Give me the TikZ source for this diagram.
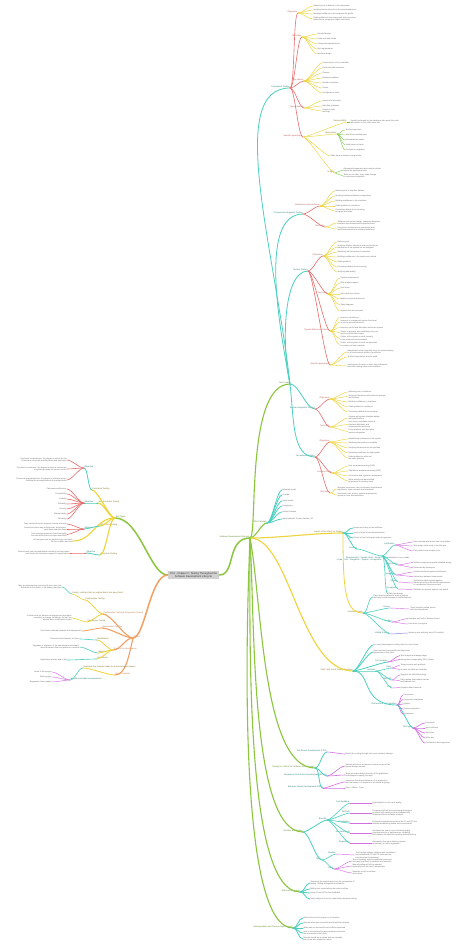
\documentclass[tikz,border=0pt]{standalone}
\usepackage{fontspec}
\setmainfont{Liberation Sans}
\usetikzlibrary{calc}

\definecolor{mmgreen}{HTML}{8CC63F}
\definecolor{mmcyan}{HTML}{4ACFC0}
\definecolor{mmred}{HTML}{E86C6C}
\definecolor{mmyellow}{HTML}{EED43A}
\definecolor{mmpurple}{HTML}{D26FE2}
\definecolor{mmorange}{HTML}{F2A063}
\definecolor{mmblue}{HTML}{8A7BE6}
\definecolor{mmleaf}{HTML}{7DC84A}

\tikzset{
  mm/.style={to path={.. controls ($(\tikztostart)+(#1,0)$) and ($(\tikztotarget)-(#1,0)$) .. (\tikztotarget)}},
  mm/.default=5,
  b1/.style={line width=1.5pt,line cap=round},
  b2/.style={line width=1.1pt,line cap=round},
  b3/.style={line width=0.8pt,line cap=round},
  b4/.style={line width=0.6pt,line cap=round},
  b5/.style={line width=0.45pt,line cap=round},
  b6/.style={line width=0.4pt,line cap=round},
  rootbox/.style={fill=black!18,rounded corners=0.6pt,align=center,inner xsep=2pt,inner ysep=1pt,
    text=black!80,font=\fontsize{2.6}{3.1}\selectfont},
  topic/.style={inner sep=0.3pt,anchor=south east,font=\fontsize{2.1}{2.5}\selectfont},
  ltopic/.style={topic,anchor=south west},
  leaf/.style={inner sep=0.3pt,anchor=west,align=left,text=black!60,font=\fontsize{1.95}{2.35}\selectfont},
  lleaf/.style={leaf,anchor=east,align=right},
  lblg/.style={text=mmgreen!65!black},
  lblc/.style={text=mmcyan!60!black},
  lblr/.style={text=mmred!80!black},
  lbly/.style={text=mmyellow!55!black},
  lblp/.style={text=mmpurple!70!black},
  lblo/.style={text=mmorange!75!black},
}

\begin{document}
\begin{tikzpicture}[x=1pt,y=-1pt]
\fill[white] (0,0) rectangle (474,947);
\useasboundingbox (0,0) rectangle (474,947);

\node[rootbox] (root) at (193.5,575) {CO1 - Chapter 2: Testing Throughout the\\Software Development Lifecycle};

% ================= right: software development lifecycle
\node[topic,lblg] (sdl) at (250,538) {Software Development Lifecycle};
\draw[b1,mmgreen] (root.east) .. controls (236,575) and (226,538) .. (sdl.south east);

% ---- test levels
\node[topic,lblg] (lev) at (290,384) {Test Levels};
\draw[b2,mmgreen] (sdl.south east) .. controls (258,538) and (245,384) .. (lev.south east);

% component testing
\node[topic,lblc] (cmp) at (290,88) {Component Testing};
\draw[b3,mmcyan] (lev.south east) .. controls (275,250) and (225,88) .. (cmp.south east);
\node[topic,lblr] (cmp-obj) at (298,13) {Objectives};
\node[topic,lblr] (cmp-bas) at (302,37) {Test basis};
\node[topic,lblr] (cmp-tob) at (304,81) {Test objects};
\node[topic,lblr] (cmp-def) at (304,108) {Typical defects};
\node[topic,lblr] (cmp-app) at (303,137) {Specific approaches};
\foreach \n in {obj,bas,tob,def,app}
  \draw[b4,mmred] (cmp.south east) to[mm] (cmp-\n.south east);
\foreach \y/\txt [count=\i] in {6/{Reducing risk of defects in the component},
    10/{Verifying functional and non-functional behaviours},
    14/{Building confidence in the component's quality},
    19/{Finding defects in the component and preventing\\defects from escaping to higher test levels}}{
  \node[leaf] (cmp-obj-\i) at (313,\y) {\txt};
  \draw[b5,mmyellow] (cmp-obj.south east) to[mm] (cmp-obj-\i.west);
}
\foreach \y/\txt [count=\i] in {34/{Detailed design},39/{Code and data model},
    44/{Component specifications},49/{Unit requirements},54/{Interface design}}{
  \node[leaf] (cmp-bas-\i) at (317,\y) {\txt};
  \draw[b5,mmyellow] (cmp-bas.south east) to[mm] (cmp-bas-\i.west);
}
\foreach \y/\txt [count=\i] in {63/{Components, units or modules},68/{Code and data structures},
    73/{Classes},78/{Database modules},83/{Stored procedures},88/{Scripts},93/{Configuration items}}{
  \node[leaf] (cmp-tob-\i) at (322,\y) {\txt};
  \draw[b5,mmyellow] (cmp-tob.south east) to[mm] (cmp-tob-\i.west);
}
\foreach \y/\txt [count=\i] in {101/{Incorrect functionality},106/{Data flow problems},
    111/{Incorrect code\\and logic}}{
  \node[leaf] (cmp-def-\i) at (322,\y) {\txt};
  \draw[b5,mmyellow] (cmp-def.south east) to[mm] (cmp-def-\i.west);
}
\node[topic,lbly] (cmp-rsp) at (347,122) {Responsibility};
\node[topic,lbly] (cmp-tdd) at (337,134) {Approaches};
\node[leaf] (cmp-iso) at (330,156) {Often done in isolation using mocks};
\node[topic,lbly] (cmp-agl) at (335,173) {In Agile};
\foreach \n/\a in {rsp/south east,tdd/south east,iso/west,agl/south east}
  \draw[b5,mmyellow] (cmp-app.south east) to[mm] (cmp-\n.\a);
\node[leaf] (cmp-rsp-1) at (350,122) {Usually performed by the developer who wrote the code\\with access to the code under test};
\draw[b6,mmleaf] (cmp-rsp.south east) to[mm=2] (cmp-rsp-1.west);
\foreach \y/\txt [count=\i] in {130/{Test-first approach},135/{Test driven development},
    140/{Automated test cases},145/{Small pieces of code},150/{Continuous integration}}{
  \node[leaf] (cmp-tdd-\i) at (345,\y) {\txt};
  \draw[b6,mmleaf] (cmp-tdd.south east) to[mm=3] (cmp-tdd-\i.west);
}
\foreach \y/\txt [count=\i] in {170/{Automated component tests may be written\\before the application code},
    176/{Tests are run after every code change\\in continuous integration}}{
  \node[leaf] (cmp-agl-\i) at (343,\y) {\txt};
  \draw[b6,mmleaf] (cmp-agl.south east) to[mm=3] (cmp-agl-\i.west);
}

% component integration testing
\node[topic,lblc] (cit) at (303,214) {Component Integration Testing};
\draw[b3,mmcyan] (lev.south east) .. controls (280,330) and (258,214) .. (cit.south east);
\node[topic,lblr] (cit-obj) at (320,206) {Interactions and interfaces};
\node[topic,lblr] (cit-bas) at (325,227) {Test basis};
\foreach \n in {obj,bas}
  \draw[b4,mmred] (cit.south east) to[mm] (cit-\n.south east);
\foreach \y/\txt [count=\i] in {191/{Reducing risk of interface defects},
    196/{Verifying interfaces between components},
    201/{Building confidence in the interfaces},
    206/{Finding defects in interfaces},
    211/{Preventing defects from escaping\\to higher test levels}}{
  \node[leaf] (cit-obj-\i) at (335,\y) {\txt};
  \draw[b5,mmyellow] (cit-obj.south east) to[mm] (cit-obj-\i.west);
}
\foreach \y/\txt [count=\i] in {223/{Software and system design, sequence diagrams\\interface and communication specifications},
    229/{Use cases, architecture at component level\\workflows and external interface definitions}}{
  \node[leaf] (cit-bas-\i) at (337,\y) {\txt};
  \draw[b5,mmyellow] (cit-bas.south east) to[mm] (cit-bas-\i.west);
}

% system testing
\node[topic,lblc] (sys) at (308,271) {System Testing};
\draw[b3,mmcyan] (lev.south east) .. controls (282,350) and (282,271) .. (sys.south east);
\node[topic,lblr] (sys-obj) at (323,256) {Objectives};
\node[topic,lblr] (sys-bas) at (328,294) {Test basis};
\node[topic,lblr] (sys-def) at (330,331) {Typical defects and failures};
\node[topic,lblr] (sys-app) at (330,365) {Specific approaches};
\foreach \n in {obj,bas,def,app}
  \draw[b4,mmred] (sys.south east) to[mm] (sys-\n.south east);
\foreach \y/\txt [count=\i] in {242/{Reducing risk},
    247/{Verifying whether functional and non-functional\\behaviours of the system are as designed},
    252/{Validating that the system is complete},
    257/{Building confidence in the system as a whole},
    262/{Finding defects},267/{Preventing defects from escaping},272/{Verifying data quality}}{
  \node[leaf] (sys-obj-\i) at (337,\y) {\txt};
  \draw[b5,mmyellow] (sys-obj.south east) to[mm] (sys-obj-\i.west);
}
\foreach \y/\txt [count=\i] in {278/{System requirements},283/{Risk analysis reports},288/{Use cases},
    294/{Epics and user stories},299/{Models of system behaviour},305/{State diagrams},311/{System and user manuals}}{
  \node[leaf] (sys-bas-\i) at (340,\y) {\txt};
  \draw[b5,mmyellow] (sys-bas.south east) to[mm] (sys-bas-\i.west);
}
\foreach \y/\txt [count=\i] in {317.5/{Incorrect calculations},
    322/{Incorrect or unexpected system functional\\or non-functional behaviour},
    327.5/{Incorrect control and data flows within the system},
    332.5/{Failure to properly and completely carry out\\end-to-end functional tasks},
    338.5/{Failure of the system to work properly\\in the production environments},
    344.5/{Failure of the system to work as described\\in system and user manuals}}{
  \node[leaf] (sys-def-\i) at (340,\y) {\txt};
  \draw[b5,mmyellow] (sys-def.south east) to[mm] (sys-def-\i.west);
}
\foreach \y/\txt [count=\i] in {352/{Independent testers typically carry out system testing\\in an environment similar to production},
    357/{Test-first approaches may be used},
    366/{Involvement of testers in user story refinement\\and static testing helps reduce defects}}{
  \node[leaf] (sys-app-\i) at (347,\y) {\txt};
  \draw[b5,mmyellow] (sys-app.south east) to[mm] (sys-app-\i.west);
}

% system integration testing
\node[topic,lblc] (sit) at (315,409) {System Integration Testing};
\draw[b3,mmcyan] (lev.south east) to[mm=9] (sit.south east);
\node[topic,lblr] (sit-obj) at (330,399) {Objectives};
\node[topic,lblr] (sit-bas) at (330,427) {Test basis};
\foreach \n in {obj,bas}
  \draw[b4,mmred] (sit.south east) to[mm] (sit-\n.south east);
\foreach \y/\txt [count=\i] in {392/{Reducing risk in interfaces},
    396.5/{Verifying interactions with external systems\\and services},
    402/{Building confidence in interfaces},407/{Finding defects in interfaces},
    412/{Preventing defects from escaping}}{
  \node[leaf] (sit-obj-\i) at (348,\y) {\txt};
  \draw[b5,mmyellow] (sit-obj.south east) to[mm] (sit-obj-\i.west);
}
\foreach \y/\txt [count=\i] in {418/{System and system interface design\\and specifications},
    424.5/{Use cases, workflows, external\\interface definitions and\\communication protocols},
    431.5/{Cross-platform and third-party\\services integration}}{
  \node[leaf] (sit-bas-\i) at (348,\y) {\txt};
  \draw[b5,mmyellow] (sit-bas.south east) to[mm] (sit-bas-\i.west);
}

% acceptance testing
\node[topic,lblc] (acc) at (315,457) {Acceptance Testing};
\draw[b3,mmcyan] (lev.south east) .. controls (294,420) and (292,457) .. (acc.south east);
\node[topic,lblr] (acc-obj) at (330,442) {Objectives};
\node[topic,lblr] (acc-frm) at (332,473) {Common forms};
\node[topic,lblr] (acc-bas) at (330,493) {Test basis};
\foreach \n in {obj,frm,bas}
  \draw[b4,mmred] (acc.south east) to[mm] (acc-\n.south east);
\foreach \y/\txt [count=\i] in {439/{Establishing confidence in the system},
    443/{Validating the system is complete},448/{Verifying behaviours are as specified},
    453/{Assessing readiness for deployment},458/{Finding defects is often not\\the main objective}}{
  \node[leaf] (acc-obj-\i) at (348,\y) {\txt};
  \draw[b5,mmyellow] (acc-obj.south east) to[mm] (acc-obj-\i.west);
}
\foreach \y/\txt [count=\i] in {466/{User acceptance testing (UAT)},
    471/{Operational acceptance testing (OAT)},476/{Contractual and regulatory acceptance},
    481/{Alpha testing and beta testing\\by potential or existing users}}{
  \node[leaf] (acc-frm-\i) at (348,\y) {\txt};
  \draw[b5,mmyellow] (acc-frm.south east) to[mm] (acc-frm-\i.west);
}
\foreach \y/\txt [count=\i] in {489/{Business processes, user or business requirements\\regulations, legal contracts and standards},
    495/{Use cases, user stories, system requirements\\system or user documentation}}{
  \node[leaf] (acc-bas-\i) at (337,\y) {\txt};
  \draw[b5,mmyellow] (acc-bas.south east) to[mm] (acc-bas-\i.west);
}

% ---- sdlc models
\node[topic,lblg] (slc) at (267,523) {SDLC Models};
\draw[b2,mmgreen] (sdl.south east) to[mm=6] (slc.south east);
\foreach \y/\txt [count=\i] in {490/{Waterfall model},495/{V-model},501/{Spiral model},
    506/{Prototyping},512/{Unified Process},519/{Agile methods: Scrum, Kanban, XP}}{
  \node[leaf] (slc-\i) at (282,\y) {\txt};
  \draw[b3,mmcyan] (slc.south east) to[mm] (slc-\i.west);
}

% ---- impact of the sdlc on testing
\node[topic,lbly] (imp) at (343,533) {Impact of the SDLC on Testing};
\draw[b2,mmyellow] (sdl.south east) to[mm=30] (imp.south east);
\foreach \y/\txt [count=\i] in {528/{Scope and timing of test activities},
    533/{Level of detail of test documentation},538/{Choice of test techniques and test approach}}{
  \node[leaf] (imp-\i) at (353,\y) {\txt};
  \draw[b3,mmcyan] (imp.south east) to[mm] (imp-\i.west);
}
\node[topic,lblc] (imp-vm) at (357,549) {V-model};
\draw[b3,mmcyan] (imp.south east) to[mm] (imp-vm.south east);
\node[topic,lblc,anchor=north east,align=right] (vm-lvl) at (382,556) {Requirements - System Spec - Design\\- Code - Unit - Integration - System - Acceptance};
\draw[b4,mmcyan] (imp-vm.south east) to[mm=6] (vm-lvl.north east);
\node[topic,lblc] (vm-ver) at (395,545) {Verification};
\node[leaf] (vm-val) at (388,557.5) {Validation of user needs};
\node[topic,lblc] (vm-uni) at (398,565) {Unit testing};
\node[topic,lblc] (vm-int) at (396,575) {Integration};
\node[topic,lblc] (vm-sys) at (398,582) {System};
\node[topic,lblc] (vm-acc) at (398,589) {Acceptance};
\node[leaf] (vm-erl) at (388,594) {Early test design};
\foreach \n/\a in {ver/south east,val/west,uni/south east,int/south east,sys/south east,acc/south east,erl/west}
  \draw[b4,mmcyan] (vm-lvl.north east) to[mm=4] (vm-\n.\a);
\foreach \y/\txt [count=\i] in {542/{Each development phase has a test phase},
    546/{Test design starts early in the lifecycle},551/{Early defects are cheaper to fix}}{
  \node[leaf] (vm-ver-\i) at (413,\y) {\txt};
  \draw[b5,mmpurple] (vm-ver.south east) to[mm=4] (vm-ver-\i.west);
}
\foreach \y/\txt [count=\i] in {562.5/{Verifies components against detailed design},567.5/{Performed by developers}}{
  \node[leaf] (vm-uni-\i) at (413,\y) {\txt};
  \draw[b5,mmpurple] (vm-uni.south east) to[mm=4] (vm-uni-\i.west);
}
\foreach \y/\txt [count=\i] in {572/{Verifies interfaces against architecture},576.5/{Interactions between components}}{
  \node[leaf] (vm-int-\i) at (413,\y) {\txt};
  \draw[b5,mmpurple] (vm-int.south east) to[mm=4] (vm-int-\i.west);
}
\node[leaf] (vm-sys-1) at (413,583) {Verifies the whole system against\\functional and non-functional requirements\\in a production-like environment};
\draw[b5,mmpurple] (vm-sys.south east) to[mm=4] (vm-sys-1.west);
\node[leaf] (vm-acc-1) at (413,589.5) {Validates the system against user needs};
\draw[b5,mmpurple] (vm-acc.south east) to[mm=4] (vm-acc-1.west);

% iterative models
\node[topic,lbly] (agl) at (363,613) {Iterative Models};
\draw[b3,mmyellow] (imp.south east) .. controls (343,590) and (345,613) .. (agl.south east);
\node[leaf] (agl-1) at (373,597) {Each iteration delivers a working feature\\and may include changes to earlier features};
\draw[b4,mmcyan] (agl.south east) to[mm] (agl-1.west);
\node[topic,lblc] (agl-scr) at (390,608) {Scrum};
\node[topic,lblc] (agl-kan) at (392,622) {Kanban};
\node[topic,lblc] (agl-rup) at (390,634) {Unified Process};
\foreach \n in {scr,kan,rup}
  \draw[b4,mmcyan] (agl.south east) to[mm] (agl-\n.south east);
\node[leaf] (agl-scr-1) at (410,609) {Short iterations called sprints\\with fixed timeboxes};
\draw[b5,mmpurple] (agl-scr.south east) to[mm=4] (agl-scr-1.west);
\foreach \y/\txt [count=\i] in {618.5/{Visualize work with a Kanban board},624/{Limit work in progress}}{
  \node[leaf] (agl-kan-\i) at (408,\y) {\txt};
  \draw[b5,mmpurple] (agl-kan.south east) to[mm=4] (agl-kan-\i.west);
}
\node[leaf] (agl-rup-1) at (408,633) {Iterations are relatively long (2-3 months)};
\draw[b5,mmblue] (agl-rup.south east) to[mm=4] (agl-rup-1.west);

% ---- good testing practices
\node[topic,lbly] (gtp) at (353,671) {SDLC and Good Testing Practices};
\draw[b2,mmyellow] (sdl.south east) .. controls (290,538) and (300,671) .. (gtp.south east);
\foreach \y/\txt [count=\i] in {645/{For every development activity there is a test activity},
    652/{Each test level has specific test objectives\\appropriate to that level}}{
  \node[leaf] (gtp-\i) at (373,\y) {\txt};
  \draw[b3,mmcyan] (gtp.south east) to[mm] (gtp-\i.west);
}
\node[topic,lblc] (gtp-anl) at (388,662) {Test analysis};
\node[topic,lblc] (gtp-rev) at (376,671) {Reviews};
\foreach \n in {anl,rev}
  \draw[b3,mmcyan] (gtp.south east) to[mm] (gtp-\n.south east);
\foreach \y/\txt [count=\i] in {655.5/{Test analysis and design begin},659.5/{during the corresponding SDLC phase}}{
  \node[leaf] (gtp-anl-\i) at (400,\y) {\txt};
  \draw[b4,mmpurple] (gtp-anl.south east) to[mm=3] (gtp-anl-\i.west);
}
\node[topic,lblc] (rev-erl) at (392,668) {Early};
\node[topic,lblc] (rev-shl) at (392,680) {Shift-left};
\node[topic,lblc] (rev-cst) at (392,688) {Cost};
\foreach \n in {erl,shl,cst}
  \draw[b4,mmcyan] (gtp-rev.south east) to[mm=4] (rev-\n.south east);
\foreach \y/\txt [count=\i] in {665/{Testers review work products},669.5/{as soon as drafts are available}}{
  \node[leaf] (rev-erl-\i) at (400,\y) {\txt};
  \draw[b5,mmpurple] (rev-erl.south east) to[mm=3] (rev-erl-\i.west);
}
\foreach \y/\txt [count=\i] in {675/{Supports the shift-left strategy},680.5/{Early testing finds defects sooner\\and reduces cost}}{
  \node[leaf] (rev-shl-\i) at (400,\y) {\txt};
  \draw[b5,mmpurple] (rev-shl.south east) to[mm=3] (rev-shl-\i.west);
}
\node[leaf] (rev-cst-1) at (400,687.5) {Cheaper defect removal};
\draw[b5,mmpurple] (rev-cst.south east) to[mm=3] (rev-cst-1.west);
\node[topic,lblc] (gtp-lvl) at (397,705) {Test levels in each iteration};
\draw[b3,mmcyan] (gtp.south east) .. controls (372,671) and (360,705) .. (gtp-lvl.south east);
\foreach \y/\txt [count=\i] in {695/{Component},699.5/{Component integration},704/{System},
    709/{System integration},714/{Acceptance}}{
  \node[leaf] (gtp-lvl-\i) at (403,\y) {\txt};
  \draw[b4,mmpurple] (gtp-lvl.south east) to[mm=3] (gtp-lvl-\i.west);
}
\node[topic,lblc] (gtp-typ) at (413,728) {Test types};
\draw[b3,mmcyan] (gtp-lvl.south east) to[mm=4] (gtp-typ.south east);
\foreach \y/\txt [count=\i] in {723/{Functional},728/{Non-functional},733/{Black-box},
    738/{White-box},743/{Confirmation and regression}}{
  \node[leaf] (gtp-typ-\i) at (425,\y) {\txt};
  \draw[b4,mmpurple] (gtp-typ.south east) to[mm=4] (gtp-typ-\i.west);
}

% ---- testing as a driver
\node[topic,lblg] (drv) at (315,768) {Testing as a Driver for Software Development};
\draw[b2,mmgreen] (sdl.south east) .. controls (262,600) and (262,768) .. (drv.south east);
\node[topic,lblc] (drv-tdd) at (327,752) {Test-Driven Development (TDD)};
\node[topic,lblc] (drv-atd) at (327,776) {Acceptance Test-Driven Development (ATDD)};
\node[topic,lblc] (drv-bdd) at (323,788) {Behavior-Driven Development (BDD)};
\foreach \n in {tdd,atd,bdd}
  \draw[b3,mmcyan] (drv.south east) to[mm] (drv-\n.south east);
\node[leaf] (drv-tdd-1) at (345,754) {Directs the coding through test cases instead of design};
\draw[b4,mmpurple] (drv-tdd.south east) to[mm] (drv-tdd-1.west);
\foreach \y/\txt [count=\i] in {766/{Derives tests from acceptance criteria as part of the\\system design process},
    775/{Tests are written before the part of the application\\is developed to satisfy the tests}}{
  \node[leaf] (drv-atd-\i) at (345,\y) {\txt};
  \draw[b4,mmpurple] (drv-atd.south east) to[mm] (drv-atd-\i.west);
}
\foreach \y/\txt [count=\i] in {782/{Expresses the desired behavior of an application\\with test cases in a simple form of natural language},
    788/{Given - When - Then}}{
  \node[leaf] (drv-bdd-\i) at (345,\y) {\txt};
  \draw[b4,mmpurple] (drv-bdd.south east) to[mm] (drv-bdd-\i.west);
}

% ---- devops and testing
\node[topic,lblg] (dev) at (303,832) {DevOps and Testing};
\draw[b2,mmgreen] (sdl.south east) .. controls (255,620) and (250,832) .. (dev.south east);
\node[topic,lblc] (dev-ben) at (327,820) {Benefits};
\draw[b3,mmcyan] (dev.south east) to[mm] (dev-ben.south east);
\foreach \y/\lbl/\txt [count=\i] in {803/{Fast feedback}/{Fast feedback on the code quality},
    813/{Shift-left}/{Promotes shift-left by encouraging developers\\to submit high-quality code accompanied by\\component tests and static analysis},
    823/{Automation}/{Promotes automated processes like CI and CD that\\facilitate establishing stable test environments},
    833/{Non-functional}/{Increases the view on non-functional quality\\characteristics (e.g. performance, reliability)\\and reduces the need for repetitive manual testing},
    843/{Regression}/{Automation through a delivery pipeline\\minimizes the risk in regression}}{
  \node[topic,lblc] (dev-ben-\i) at (350,\y) {\lbl};
  \draw[b4,mmcyan] (dev-ben.south east) to[mm] (dev-ben-\i.south east);
  \node[leaf] (dev-ben-\i-l) at (372,\y) {\txt};
  \draw[b5,mmpurple] (dev-ben-\i.south east) to[mm=6] (dev-ben-\i-l.west);
}
\node[topic,lblc] (dev-rsk) at (322,860) {Risks};
\draw[b3,mmcyan] (dev.south east) to[mm=6] (dev-rsk.south east);
\node[topic,lblc] (rsk-pip) at (336,854) {Pipeline};
\node[topic,lblc] (rsk-eff) at (334,869) {Effort};
\foreach \n in {pip,eff}
  \draw[b4,mmcyan] (dev-rsk.south east) to[mm=4] (rsk-\n.south east);
\node[leaf] (rsk-pip-1) at (355,855) {The DevOps delivery pipeline must be defined\\and established, CI and CD tools must be\\introduced and maintained};
\draw[b5,mmpurple] (rsk-pip.south east) to[mm=6] (rsk-pip-1.west);
\foreach \y/\txt [count=\i] in {861/{Test automation requires additional resources\\and may be difficult to establish and maintain},
    866/{Manual testing will still be needed,\\especially from the user's perspective},
    873/{Requires a shift in mindset\\and culture}}{
  \node[leaf] (rsk-eff-\i) at (352,\y) {\txt};
  \draw[b5,mmpurple] (rsk-eff.south east) to[mm=5] (rsk-eff-\i.west);
}

% ---- shift-left
\node[topic,lblg] (shl) at (300,892) {Shift-Left Approach};
\draw[b2,mmgreen] (sdl.south east) .. controls (250,640) and (245,892) .. (shl.south east);
\foreach \y/\txt [count=\i] in {883/{Reviewing the specification from the perspective of\\testing: finding ambiguities and defects},
    889/{Writing test cases before the code is written},
    893/{Using CI and CD for fast feedback},
    899/{Static analysis of source code before dynamic testing}}{
  \node[leaf] (shl-\i) at (310,\y) {\txt};
  \draw[b3,mmcyan] (shl.south east) to[mm] (shl-\i.west);
}

% ---- retrospectives
\node[topic,lblg] (ret) at (293,928) {Retrospectives and Process Improvement};
\draw[b2,mmgreen] (sdl.south east) .. controls (245,660) and (240,928) .. (ret.south east);
\foreach \y/\txt [count=\i] in {918/{Held at the end of a project or an iteration},
    923/{Discuss what was successful and should be retained},
    928/{What was not successful and could be improved},
    933/{How to incorporate the improvements and retain\\the successes in the future},
    939/{Results should be recorded and are normally\\part of the test completion report}}{
  \node[leaf] (ret-\i) at (303,\y) {\txt};
  \draw[b3,mmcyan] (ret.south east) to[mm] (ret-\i.west);
}

% ================= left: test types
\node[ltopic,lblg] (typ) at (115,518) {Test Types};
\draw[b1,mmgreen] (root.west) .. controls (150,575) and (140,518) .. (typ.south west);

\node[ltopic,lbly] (fun) at (92,490) {Functional Testing};
\node[ltopic,lbly] (nfn) at (98,503) {Non-functional Testing};
\node[ltopic,lbly] (wbx) at (100,526) {White-box Testing};
\node[ltopic,lbly] (bbx) at (100,555) {Black-box Testing};
\foreach \n in {fun,nfn,wbx,bbx}
  \draw[b2,mmyellow] (typ.south west) to[mm=-6] (\n.south west);
\node[lleaf] (typ-lvl) at (73,541) {All test types can be applied at any test level,\\the focus differs per level};
\draw[b2,mmyellow] (typ.south west) to[mm=-20] (typ-lvl.east);

\node[ltopic,lblc] (fun-obj) at (84,468) {Objective};
\draw[b3,mmcyan] (fun.south west) to[mm=-4] (fun-obj.south west);
\foreach \y/\txt [count=\i] in {460/{Functional completeness: the degree to which the set\\of functions covers all specified tasks and objectives},
    469/{Functional correctness: the degree to which a component\\or system provides the correct results},
    480/{Functional appropriateness: the degree to which functions\\facilitate the accomplishment of specified tasks}}{
  \node[lleaf] (fun-obj-\i) at (67,\y) {\txt};
  \draw[b4,mmred] (fun-obj.south west) to[mm=-5] (fun-obj-\i.east);
}
\node[ltopic,lblc] (nfn-obj) at (84,503) {Objective};
\draw[b3,mmcyan] (nfn.south west) to[mm=-4] (nfn-obj.south west);
\foreach \y/\txt [count=\i] in {489/{Performance efficiency},494/{Compatibility},499/{Usability},
    504/{Reliability},509/{Security},514/{Maintainability},519/{Portability}}{
  \node[lleaf] (nfn-obj-\i) at (67,\y) {\txt};
  \draw[b4,mmred] (nfn-obj.south west) to[mm=-5] (nfn-obj-\i.east);
}
\node[ltopic,lblc] (wbx-obj) at (84,529) {Objective};
\draw[b3,mmcyan] (wbx.south west) to[mm=-4] (wbx-obj.south west);
\foreach \y/\txt [count=\i] in {524/{Tests derived from the system's internal structure},
    529/{Internal structure may include code, architecture,\\work flows and data flows},
    534.5/{Test coverage measures how thoroughly\\the internal structure has been exercised}}{
  \node[lleaf] (wbx-obj-\i) at (67,\y) {\txt};
  \draw[b4,mmred] (wbx-obj.south west) to[mm=-5] (wbx-obj-\i.east);
}
\node[ltopic,lblc] (bbx-obj) at (86,553) {Objective};
\draw[b3,mmcyan] (bbx.south west) to[mm=-4] (bbx-obj.south west);
\node[lleaf] (bbx-obj-1) at (70,553) {Derives tests from documentation external to the test object\\and checks the behaviour against its specifications};
\draw[b4,mmred] (bbx-obj.south west) to[mm=-5] (bbx-obj-1.east);

% ================= left: others
\node[ltopic,lblo] (oth) at (133,638) {Others};
\draw[b1,mmorange] (root.west) .. controls (150,575) and (145,638) .. (oth.south west);

\node[ltopic,lblo] (crt) at (103,614) {Confirmation Testing \& Regression Testing};
\node[ltopic,lblo] (mnt) at (102,628) {Maintenance Testing};
\node[ltopic,lblo] (trg) at (113,650) {Triggers for maintenance};
\foreach \n in {crt,mnt,trg}
  \draw[b2,mmorange] (oth.south west) to[mm=-8] (\n.south west);
\node[ltopic,lblo] (ima) at (115,675) {Impact Analysis};
\draw[b2,mmorange] (oth.south west) .. controls (129,655) and (126,675) .. (ima.south west);

\node[ltopic,lbly] (cnf) at (85,600) {Confirmation Testing};
\node[ltopic,lbly] (reg) at (87,622) {Regression Testing};
\foreach \n in {cnf,reg}
  \draw[b3,mmyellow] (crt.south west) to[mm=-5] (\n.south west);
\node[ltopic,lbly] (cnf-rt) at (72,594) {Retest: confirms that an original defect has been fixed};
\draw[b4,mmyellow] (cnf.south west) to[mm=-4] (cnf-rt.south west);
\node[lleaf] (cnf-rt-1) at (62,587) {May be performed by executing all test cases that\\failed due to the defect, or by adding new tests};
\draw[b4,mmcyan] (cnf-rt.south west) to[mm=-4] (cnf-rt-1.east);
\node[lleaf] (reg-1) at (72,618) {Confirms that no adverse consequences have been\\caused by a change, including a fix that has\\already been confirmation tested};
\draw[b4,mmyellow] (reg.south west) to[mm=-4] (reg-1.east);
\node[lleaf] (mnt-1) at (82,631) {Can involve planned releases and deployments};
\draw[b3,mmorange] (mnt.south west) to[mm=-5] (mnt-1.east);

\node[ltopic,lbly] (trg-mod) at (97,640) {Modification};
\node[ltopic,lbly] (trg-mig) at (98,653) {Migration};
\node[ltopic,lbly] (trg-ret) at (97,659) {Retirement};
\foreach \n in {mod,mig,ret}
  \draw[b3,mmyellow] (trg.south west) to[mm=-5] (trg-\n.south west);
\node[lleaf] (trg-mod-1) at (80,639) {Planned enhancements, hot fixes};
\draw[b4,mmcyan] (trg-mod.south west) to[mm=-5] (trg-mod-1.east);
\node[lleaf] (trg-mig-1) at (80,647) {Upgrades or migration of the operational environment,\\data conversion from one platform to another};
\draw[b4,mmcyan] (trg-mig.south west) to[mm=-5] (trg-mig-1.east);
\node[lleaf] (trg-ret-1) at (67,660) {Application reaches end of life};
\draw[b4,mmcyan] (trg-ret.south west) to[mm=-8] (trg-ret-1.east);

\node[ltopic,lbly] (ima-chg) at (83,668) {Evaluates the changes made for a maintenance release};
\draw[b3,mmyellow] (ima.south west) to[mm=-8] (ima-chg.south west);
\node[ltopic,lblc] (ima-res) at (70,680) {Identifies intended consequences};
\draw[b4,mmcyan] (ima-chg.south west) to[mm=-5] (ima-res.south west);
\foreach \y/\txt [count=\i] in {672/{Areas in the system},677/{Existing tests},682/{Regression tests needed}}{
  \node[lleaf] (ima-res-\i) at (52,\y) {\txt};
  \draw[b5,mmpurple] (ima-res.south west) to[mm=-5] (ima-res-\i.east);
}
\end{tikzpicture}
\end{document}
